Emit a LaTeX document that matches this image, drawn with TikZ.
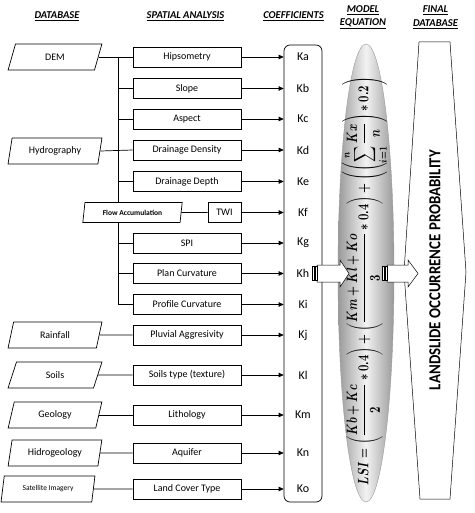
\documentclass[tikz,border=0pt]{standalone}
\usepackage{amsmath}
\usepackage{fontspec}
\setmainfont{Carlito}
\usetikzlibrary{arrows.meta,shapes.geometric}
\begin{document}
\begin{tikzpicture}[x=1pt,y=-1pt,
  db/.style={trapezium, trapezium left angle=74, trapezium right angle=106, trapezium stretches=true,
     draw, line width=0.7pt, fill=white, minimum width=94pt, minimum height=26pt, inner sep=0pt,
     font=\fontsize{10}{12}\selectfont},
  sa/.style={draw, line width=0.7pt, fill=white, minimum width=108pt, minimum height=20pt, inner sep=0pt,
     font=\fontsize{10}{12}\selectfont},
  lnk/.style={line width=0.7pt},
  arr/.style={line width=0.7pt, -{Triangle[length=5pt,width=4.5pt]}},
  kl/.style={font=\fontsize{12}{14}\selectfont, inner sep=0pt},
  hdr/.style={font=\fontsize{10.5}{12}\selectfont\bfseries\itshape, align=center, inner sep=0pt},
  blk/.style={draw, line width=0.5pt, fill=white}
]
\useasboundingbox (0,0) rectangle (474,513);

% headers
\node[hdr] (h1) at (57,16) {\underline{DATABASE}};
\node[hdr] (h2) at (185.5,16) {\underline{SPATIAL ANALYSIS}};
\node[hdr] (h3) at (293.5,16) {\underline{COEFFICIENTS}};
\node[hdr] (h4) at (363,10) {\underline{MODEL}};
\node[hdr] (h4b) at (363,24) {\underline{EQUATION}};
\node[hdr] (h5) at (435.5,10) {\underline{FINAL}};
\node[hdr] (h5b) at (435.5,24) {\underline{DATABASE}};

% trunk
\coordinate (tr) at (118,57);
\coordinate (trb) at (118,304.5);
\draw[lnk] (tr) -- (trb);

% database
\node[db] (dem) at (55,57) {DEM};
\node[db] (hyd) at (55,151) {Hydrography};
\node[db, minimum width=100pt, minimum height=20pt, trapezium left angle=76, trapezium right angle=104,
      font=\fontsize{7.5}{9}\selectfont\bfseries] (flow) at (132.5,212.5) {Flow Accumulation};
\node[db] (rain) at (55,335) {Rainfall};
\node[db] (soil) at (55,375) {Soils};
\node[db] (geo) at (55,415) {Geology};
\node[db] (hidro) at (55,453) {Hidrogeology};
\node[db, font=\fontsize{7.5}{9}\selectfont] (sat) at (48,489) {Satellite Imagery};

% spatial analysis
\node[sa] (hips) at (187,57) {Hipsometry};
\node[sa] (slope) at (187,88.5) {Slope};
\node[sa] (asp) at (187,119) {Aspect};
\node[sa] (ddens) at (187,150) {Drainage Density};
\node[sa] (ddep) at (187,181.5) {Drainage Depth};
\node[sa, minimum width=33pt] (twi) at (224.5,212.5) {TWI};
\node[sa] (spi) at (187,243) {SPI};
\node[sa] (plan) at (187,273.5) {Plan Curvature};
\node[sa] (prof) at (187,304.5) {Profile Curvature};
\node[sa] (pluv) at (187,335) {Pluvial Aggresivity};
\node[sa] (stype) at (187,375) {Soils type (texture)};
\node[sa] (lith) at (187,415) {Lithology};
\node[sa] (aqu) at (187,453) {Aquifer};
\node[sa] (land) at (187,489) {Land Cover Type};

% links database -> analysis
\draw[lnk] (dem.east) -- (hips.west);
\draw[lnk] (hyd.east) -- (ddens.west);
\draw[lnk] (flow.east) -- (twi.west);
\draw[lnk] (rain.east) -- (pluv.west);
\draw[lnk] (soil.east) -- (stype.west);
\draw[lnk] (geo.east) -- (lith.west);
\draw[lnk] (hidro.east) -- (aqu.west);
\draw[lnk] (sat.east) -- (land.west);
\foreach \n in {slope,asp,ddep,spi,plan,prof}
  \draw[lnk] (tr |- \n.west) -- (\n.west);

% coefficient column
\node[draw, line width=0.7pt, rounded corners=6pt, minimum width=38pt, minimum height=457pt, inner sep=0pt] (kcol) at (303,273.5) {};
\foreach \n/\k in {hips/Ka,slope/Kb,asp/Kc,ddens/Kd,ddep/Ke,twi/Kf,spi/Kg,plan/Kh,prof/Ki,pluv/Kj,stype/Kl,lith/Km,aqu/Kn,land/Ko}{
  \node[kl] (k\k) at (kcol.center |- \n.east) {\k};
  \draw[arr] (\n.east) -- (\n.east -| kcol.west);
}

% model equation
\node[ellipse, draw=gray!80, line width=0.4pt, minimum width=56pt, minimum height=458pt, inner sep=0pt,
      left color=gray!80, right color=gray!80, middle color=gray!10] (eq) at (366,273) {};
\node[rotate=90, inner sep=0pt] (eqt) at (365,281) {\resizebox*{408pt}{46pt}{\boldmath$LSI=\left(\dfrac{Kb+Kc}{2}*0.4\right)+\left(\dfrac{Km+Kl+Ko}{3}*0.4\right)+\left(\left(\displaystyle\sum_{i=1}^{n}\dfrac{Kx}{n}\right)*0.2\right)$}};

% final database
\draw[line width=0.5pt] (419,42) -- (450,42) -- (466,272) -- (450,499) -- (420,499) -- (404,272) -- cycle;
\node[rotate=90, inner sep=0pt, font=\bfseries] (lop) at (435,270) {\resizebox{240pt}{11pt}{LANDSLIDE OCCURRENCE PROBABILITY}};

% block arrows
\draw[blk] (317,265) -- (340,265) -- (340,260) -- (349,273.5) -- (340,287) -- (340,282) -- (317,282) -- cycle;
\draw[blk] (312,266.5) rectangle (314,280.5);
\draw[blk] (315,266.5) rectangle (317,280.5);
\draw[blk] (387,265) -- (408,265) -- (408,260) -- (418,273.5) -- (408,287) -- (408,282) -- (387,282) -- cycle;
\draw[blk] (382,266.5) rectangle (384,280.5);
\draw[blk] (385,266.5) rectangle (387,280.5);
\end{tikzpicture}
\end{document}
